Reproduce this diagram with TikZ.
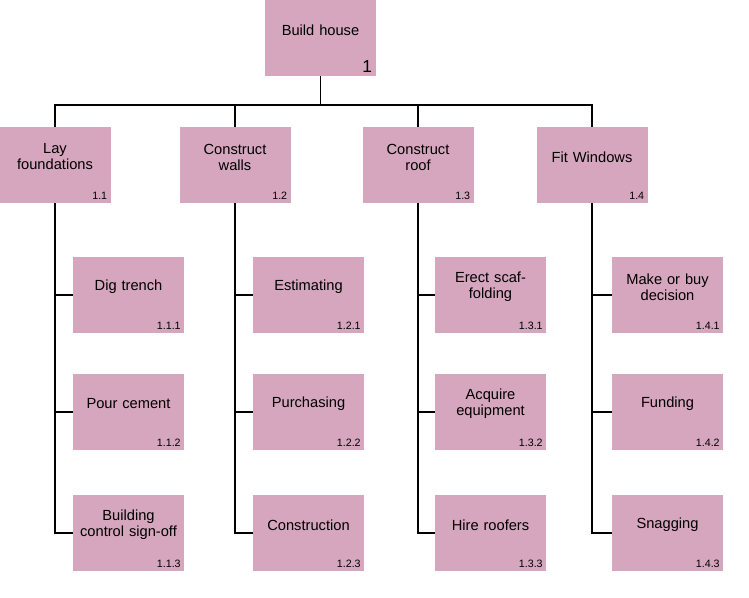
\documentclass[tikz,border=0pt]{standalone}
\usepackage{fontspec}
\setmainfont{Liberation Sans}
\definecolor{boxpink}{HTML}{D5A6BD}
\begin{document}
\begin{tikzpicture}[x=0.75pt,y=-0.75pt,
  wbs/.style={fill=boxpink,draw=none,minimum width=83.25pt,minimum height=57pt,inner sep=0pt},
  lbl/.style={align=center,font=\fontsize{11}{12}\selectfont,text width=78pt},
  num/.style={font=\fontsize{8}{9}\selectfont,anchor=south east,inner sep=2.5pt},
  conn/.style={draw=black,line width=1.2pt}]
\useasboundingbox (0,0) rectangle (749,597);
\newcommand{\wbox}[5]{%
  \node[wbs] (#1) at (#2,#3) {};
  \node[lbl] (#1l) at ([yshift=6pt]#1.center) {#4};
  \node[num] (#1n) at (#1.south east) {#5};}
\wbox{r}{320.5}{38}{Build house}{}
\node[font=\fontsize{13}{14}\selectfont,anchor=south east,inner sep=3pt] (rn) at (r.south east) {1};
\wbox{a}{55}{165}{Lay\\foundations}{1.1}
\wbox{b}{235}{165}{Construct\\walls}{1.2}
\wbox{c}{418}{165}{Construct\\roof}{1.3}
\wbox{d}{592}{165}{Fit Windows}{1.4}
\foreach \p/\x in {a/128.5,b/308.5,c/490.5,d/667.5}{
  \wbox{\p1}{\x}{295}{}{}
  \wbox{\p2}{\x}{412}{}{}
  \wbox{\p3}{\x}{533}{}{}
}
\foreach \n/\t in {a1/Dig trench,a2/Pour cement,a3/Building control sign-off,
  b1/Estimating,b2/Purchasing,b3/Construction,
  c1/Erect scaffolding,c2/Acquire equipment,c3/Hire roofers,
  d1/Make or buy decision,d2/Funding,d3/Snagging}
  \node[lbl] at ([yshift=6pt]\n.center) {\t};
\foreach \p/\k in {a/1,b/2,c/3,d/4}{
  \node[num] at (\p1.south east) {1.\k.1};
  \node[num] at (\p2.south east) {1.\k.2};
  \node[num] at (\p3.south east) {1.\k.3};
}
\coordinate (h) at (320.5,105);
\draw[conn] (r.south) -- (h);
\draw[conn] (a.north) |- (h) -| (d.north);
\draw[conn] (b.north) -- (b.north|-h);
\draw[conn] (c.north) -- (c.north|-h);
\foreach \p in {a,b,c,d}{
  \draw[conn] (\p.south) |- (\p3.west);
  \draw[conn] (\p1.west) -- (\p1.west-|\p.south);
  \draw[conn] (\p2.west) -- (\p2.west-|\p.south);
}
\end{tikzpicture}
\end{document}
